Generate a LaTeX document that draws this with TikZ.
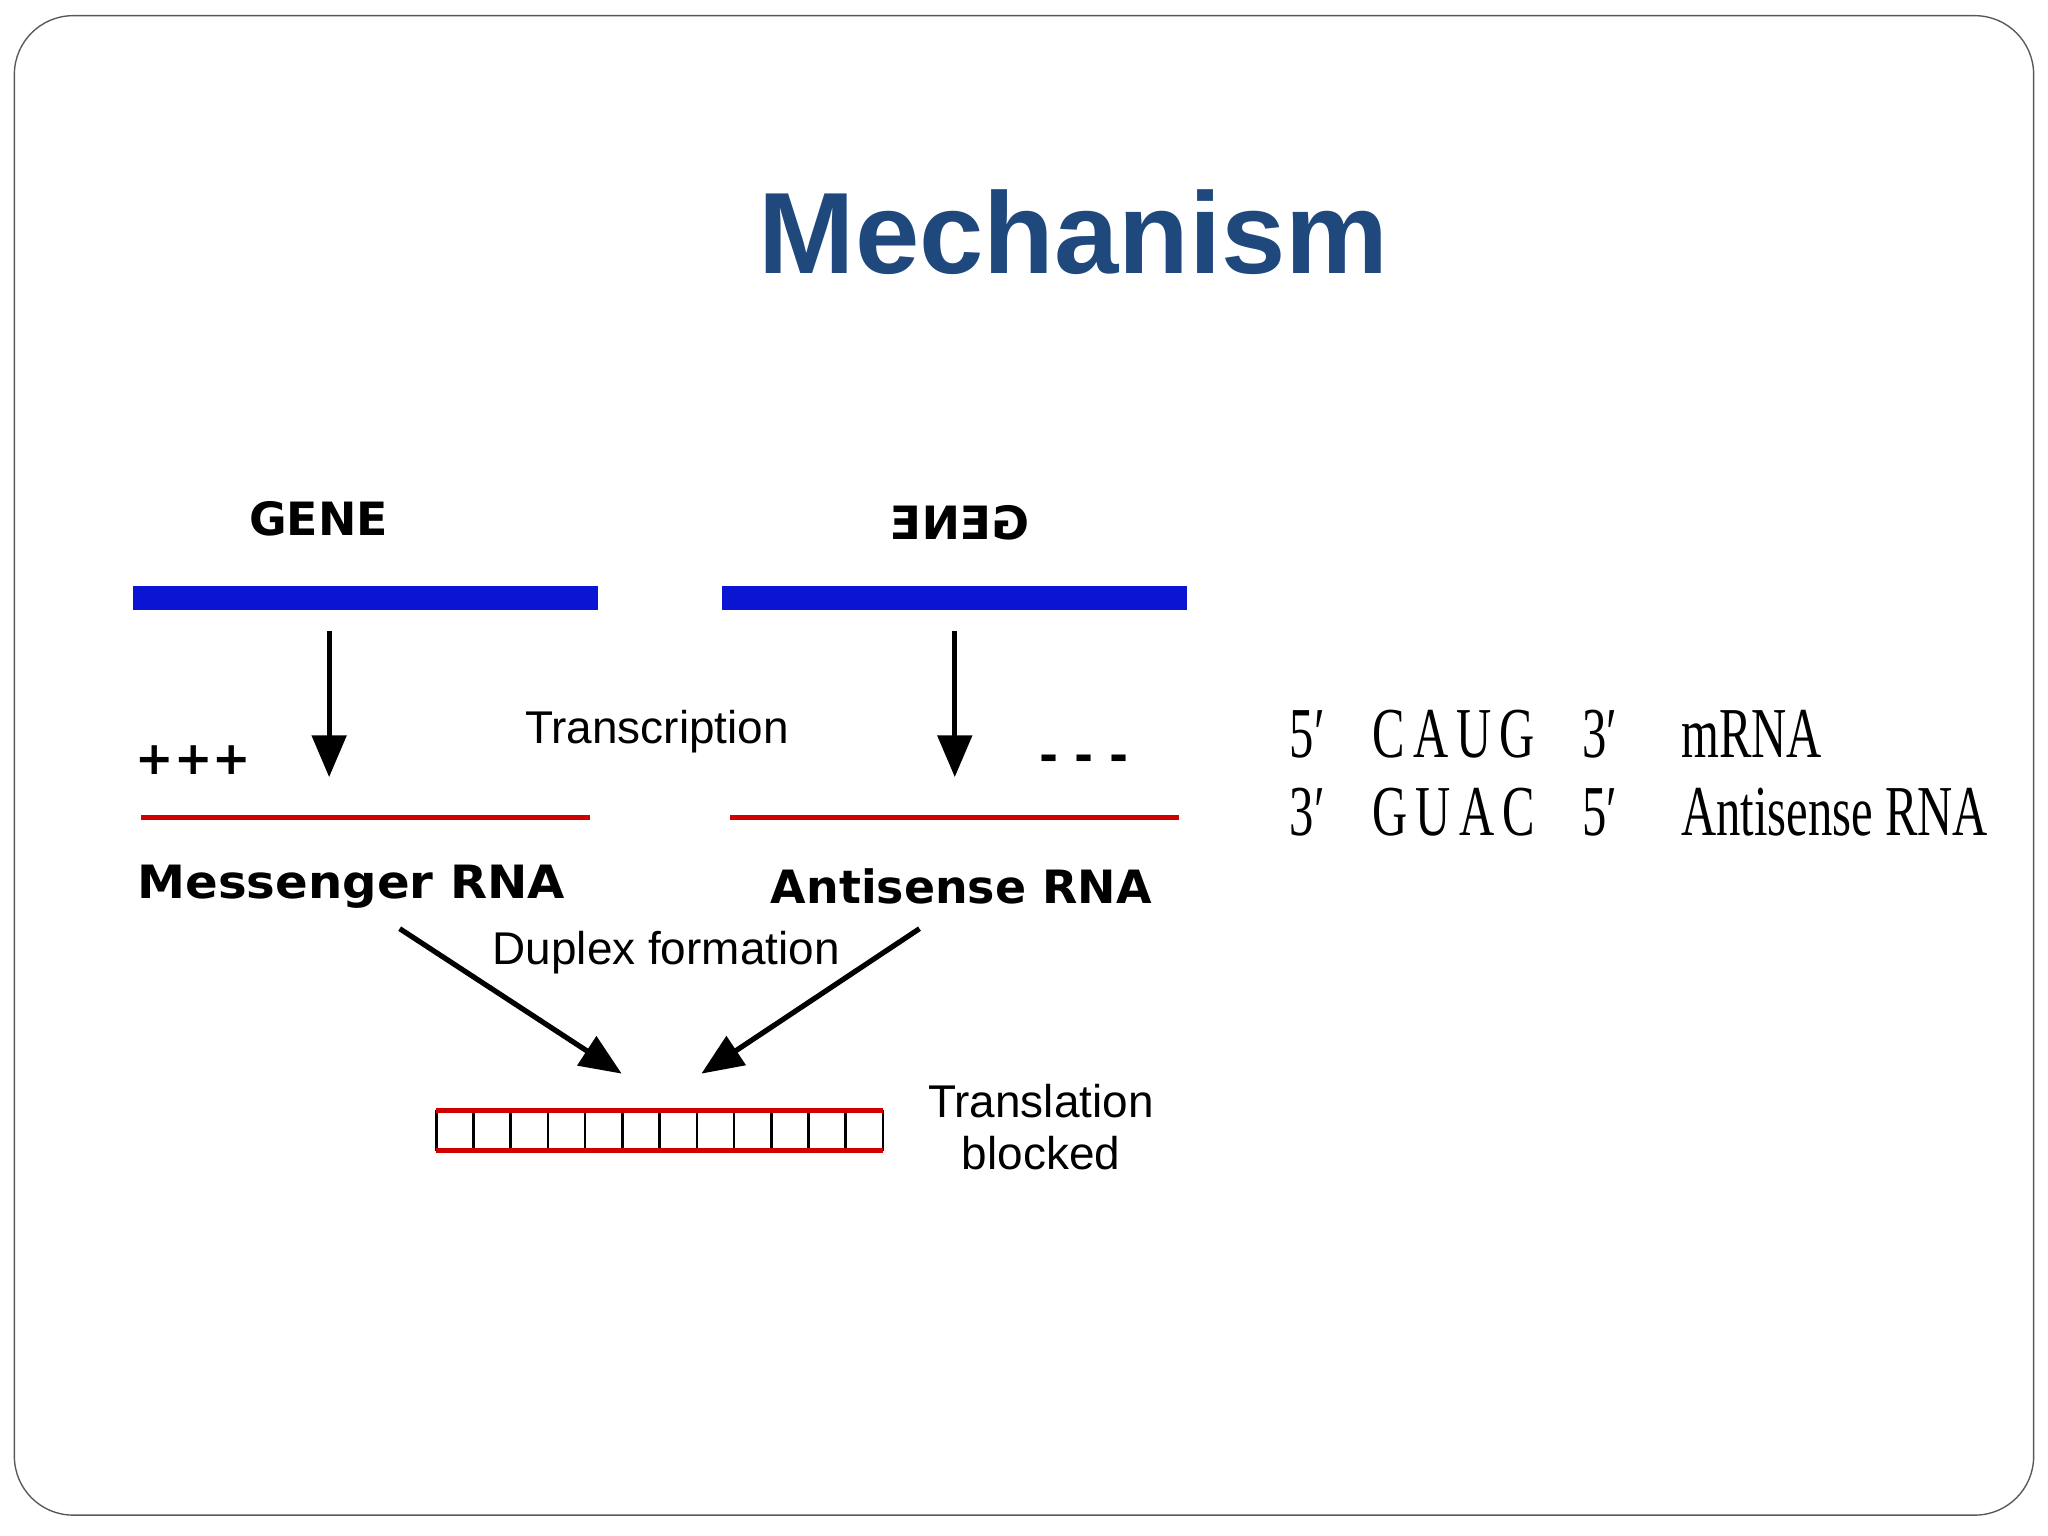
\documentclass[tikz,border=0pt]{standalone}
\usepackage{fontspec}
\setmainfont{Liberation Sans}
\newfontfamily\serifx{Liberation Serif}
\newfontfamily\boldx{DejaVu Sans}
\usetikzlibrary{arrows.meta}
\definecolor{titleblue}{HTML}{1F497D}
\definecolor{barblue}{HTML}{0A14D2}
\definecolor{rnared}{HTML}{D00000}
\begin{document}
\begin{tikzpicture}[x=0.05cm,y=-0.05cm,
  lbl/.style={font=\boldx\bfseries\fontsize{50}{54}\selectfont,inner sep=0pt},
  reg/.style={font=\fontsize{50}{56}\selectfont,inner sep=0pt,align=center},
  ser/.style={font=\serifx\fontsize{78}{90}\selectfont,inner sep=0pt,xscale=0.68,anchor=base},
  bar/.style={barblue,line width=18*0.05cm},
  rna/.style={rnared,line width=4*0.05cm},
  arr/.style={line width=4*0.05cm,-{Triangle[length=32*0.05cm,width=26*0.05cm]}}]
\useasboundingbox (0,0) rectangle (1568,1176);
\draw[gray!70!black,line width=1.5pt,rounded corners=45*0.05cm] (11,12) rectangle (1557,1160);
\node[font=\bfseries\fontsize{126}{130}\selectfont,text=titleblue] (title) at (822,178) {Mechanism};
\node[lbl] (g1) at (244,397) {GENE};
\node[lbl] (g2) at (735,400) {\scalebox{-1}[1]{GENE}};
\draw[bar] (102,458) -- (458,458);
\draw[bar] (553,458) -- (909,458);
\coordinate (a1s) at (252,483); \coordinate (a1e) at (252,595);
\coordinate (a2s) at (731,483); \coordinate (a2e) at (731,595);
\draw[arr] (a1s) -- (a1e);
\draw[arr] (a2s) -- (a2e);
\node[lbl] (plus) at (148,582) {+++};
\node[lbl] (minus) at (830,584) {- - -};
\node[reg] (tr) at (503,560) {Transcription};
\draw[rna] (108,626) -- (452,626);
\draw[rna] (559,626) -- (903,626);
\node[lbl,xscale=1.05] (mrna) at (269,679) {Messenger RNA};
\node[lbl] (arna) at (736,679) {Antisense RNA};
\coordinate (d1s) at (306,711); \coordinate (d1e) at (476,822);
\coordinate (d2s) at (704,711); \coordinate (d2e) at (537,822);
\draw[arr] (d1s) -- (d1e);
\draw[arr] (d2s) -- (d2e);
\node[reg] (dup) at (510,729) {Duplex formation};
\foreach \i in {0,...,12} \draw[line width=2*0.05cm] ({334+\i*28.5},850) -- ({334+\i*28.5},881);
\draw[rna] (334,850) -- (676,850);
\draw[rna] (334,881) -- (676,881);
\node[reg] (tb) at (797,863) {Translation\\blocked};
\node[ser] (r1a) at (1001,580) {5′};
\node[ser] (r1b) at (1113,580) {C\,A\,U\,G};
\node[ser] (r1c) at (1225,580) {3′};
\node[ser,anchor=base west] (r1d) at (1287,580) {mRNA};
\node[ser] (r2a) at (1001,640) {3′};
\node[ser] (r2b) at (1113,640) {G\,U\,A\,C};
\node[ser] (r2c) at (1225,640) {5′};
\node[ser,anchor=base west] (r2d) at (1287,640) {Antisense RNA};
\end{tikzpicture}
\end{document}
